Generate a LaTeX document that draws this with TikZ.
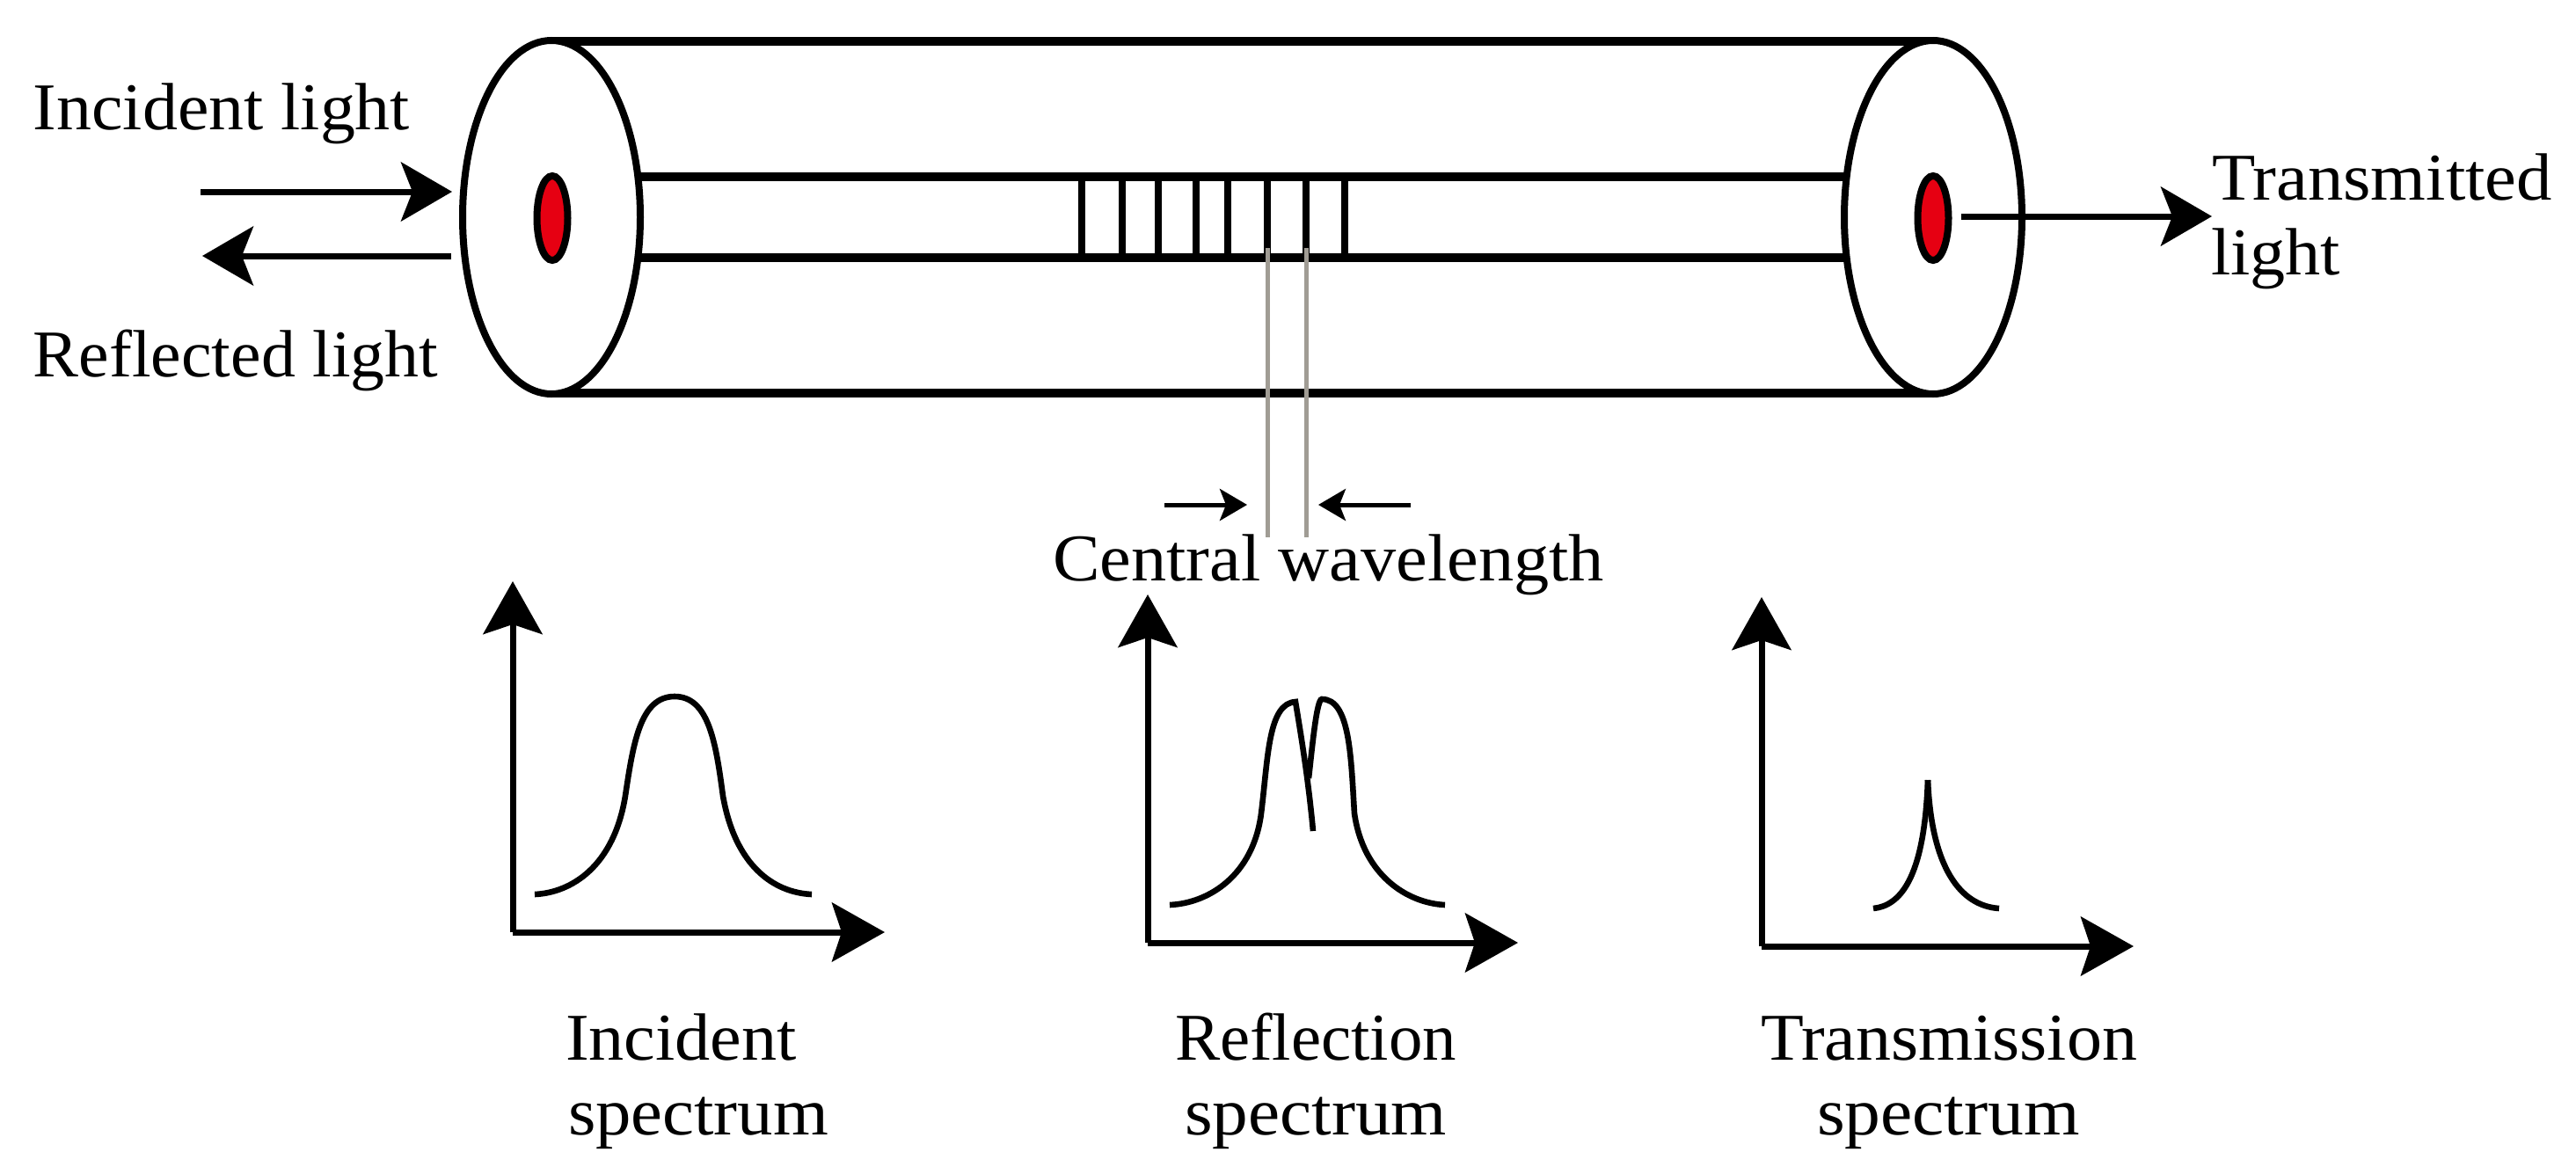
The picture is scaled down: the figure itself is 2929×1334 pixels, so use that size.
\documentclass[tikz,border=0pt]{standalone}
\usepackage{fontspec}
\usepackage{graphicx}
\setmainfont{Liberation Serif}
\usetikzlibrary{arrows.meta}
\definecolor{corered}{HTML}{E60012}
\definecolor{guide}{HTML}{A09C94}
\tikzset{
  thick line/.style={line width=5.2pt,black},
  rim/.style={line width=4pt,black,fill=white},
  core/.style={line width=4pt,black,fill=corered},
  bar/.style={line width=4pt,black},
  guideline/.style={line width=2.5pt,guide},
  bigarrow/.style={line width=3.5pt,black,-{Stealth[length=29pt,width=33.5pt,inset=6.5pt]}},
  axis/.style={line width=3.5pt,black,-{Stealth[length=30pt,width=33.5pt,inset=5.5pt]}},
  smallarrow/.style={line width=2.5pt,black,-{Stealth[length=15.5pt,width=18pt,inset=3.5pt]}},
  curve/.style={line width=3.3pt,black},
  lbl/.style={inner sep=0pt,outer sep=0pt,anchor=base west,font=\fontsize{38pt}{44pt}\selectfont}
}
\newcommand{\wt}[2]{\resizebox{#1pt}{\height}{#2}}
\begin{document}
\begin{tikzpicture}[x=0.5pt,y=-0.5pt]
\useasboundingbox (0,0) rectangle (2929,1334);
% tube
\draw[thick line] (627,47) -- (2198,47);
\draw[thick line] (627,447) -- (2198,447);
\draw[thick line] (727,201) -- (2098,201);
\draw[thick line] (727,293) -- (2098,293);
\foreach \x in {1230,1276,1317,1360,1396,1441,1485,1529}
  \draw[bar] (\x,201) -- (\x,293);
\draw[guideline] (1441,282) -- (1441,611);
\draw[guideline] (1485,282) -- (1485,611);
% end faces
\draw[rim] (627,247) ellipse [x radius=101,y radius=201];
\draw[rim] (2198,247) ellipse [x radius=101,y radius=201];
\draw[core] (628,248) ellipse [x radius=17.5,y radius=48];
\draw[core] (2198,248) ellipse [x radius=17.5,y radius=48];
% light arrows
\coordinate (incA) at (228,218); \coordinate (incB) at (514,218);
\coordinate (refA) at (513,291); \coordinate (refB) at (230,291);
\coordinate (traA) at (2230,246); \coordinate (traB) at (2515,246);
\draw[bigarrow] (incA) -- (incB);
\draw[bigarrow] (refA) -- (refB);
\draw[bigarrow] (traA) -- (traB);
% central wavelength arrows
\coordinate (cwA) at (1324,574); \coordinate (cwB) at (1418,574);
\coordinate (cwC) at (1604,574); \coordinate (cwD) at (1499,574);
\draw[smallarrow] (cwA) -- (cwB);
\draw[smallarrow] (cwC) -- (cwD);
% plot 1
\coordinate (o1) at (583,1060);
\coordinate (y1) at (583,661); \coordinate (x1) at (1006,1060);
\draw[axis] (o1) -- (y1);
\draw[axis] (o1) -- (x1);
\draw[curve] (608,1017) .. controls (650,1015) and (698,985) .. (711,905)
  .. controls (720,845) and (728,792) .. (767,792)
  .. controls (806,792) and (814,845) .. (822,905)
  .. controls (836,985) and (880,1015) .. (923,1017);
% plot 2
\coordinate (o2) at (1305,1072);
\coordinate (y2) at (1305,676); \coordinate (x2) at (1726,1072);
\draw[axis] (o2) -- (y2);
\draw[axis] (o2) -- (x2);
\draw[curve] (1330,1029) .. controls (1375,1027) and (1425,995) .. (1434,925)
  .. controls (1442,860) and (1442,800) .. (1473,798)
  .. controls (1480,840) and (1488,890) .. (1493,945);
\draw[curve] (1488,885) .. controls (1492,850) and (1497,795) .. (1503,795)
  .. controls (1535,795) and (1536,860) .. (1540,925)
  .. controls (1550,995) and (1600,1027) .. (1643,1029);
% plot 3
\coordinate (o3) at (2003,1076);
\coordinate (y3) at (2003,679); \coordinate (x3) at (2426,1076);
\draw[axis] (o3) -- (y3);
\draw[axis] (o3) -- (x3);
\draw[curve] (2130,1033) .. controls (2160,1030) and (2188,1000) .. (2192,887);
\draw[curve] (2273,1033) .. controls (2228,1030) and (2196,985) .. (2192,887);
% labels
\node[lbl] (tinc) at (38,147) {\wt{214}{Incident light}};
\node[lbl] (tref) at (38,428) {\wt{230}{Reflected light}};
\node[lbl] (ttr1) at (2515,227) {\wt{193.5}{Transmitted}};
\node[lbl] (ttr2) at (2514,312) {\wt{73.5}{light}};
\node[lbl] (tcw) at (1197,660) {\wt{313.5}{Central wavelength}};
\node[lbl] (ti1) at (643,1205) {\wt{131.5}{Incident}};
\node[lbl] (ti2) at (646,1290) {\wt{148}{spectrum}};
\node[lbl] (tr1) at (1336,1205) {\wt{160}{Reflection}};
\node[lbl] (tr2) at (1347,1290) {\wt{149}{spectrum}};
\node[lbl] (tt1) at (2002,1205) {\wt{214}{Transmission}};
\node[lbl] (tt2) at (2066,1290) {\wt{149.5}{spectrum}};
\end{tikzpicture}
\end{document}
